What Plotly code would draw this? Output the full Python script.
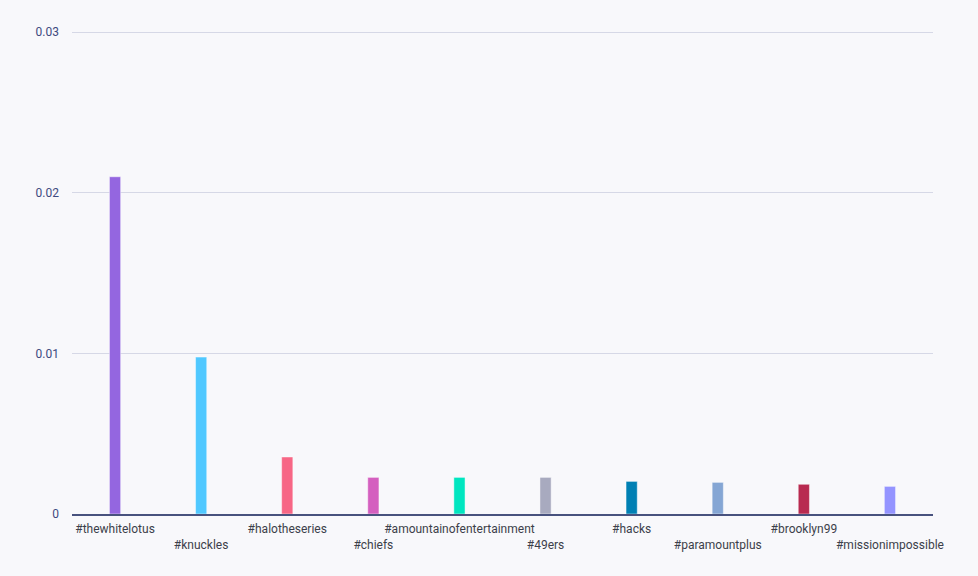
import plotly.graph_objects as go

# hashtag share values
hashtags = [
    "#thewhitelotus", "#knuckles", "#halotheseries", "#chiefs",
    "#amountainofentertainment", "#49ers", "#hacks", "#paramountplus",
    "#brooklyn99", "#missionimpossible",
]
shares = [0.0210, 0.00977, 0.00355, 0.00228, 0.00228,
          0.00228, 0.00203, 0.00197, 0.00185, 0.00172]
bar_colors = [
    "#9466e0", "#50c8ff", "#f76685", "#d45fbf", "#00e6c0",
    "#a8aabf", "#0080b4", "#85a6d4", "#b82a50", "#9494ff",
]
y_ticks = [0, 0.01, 0.02, 0.03]
y_tick_labels = ["0", "0.01", "0.02", "0.03"]

# stagger the category labels on two rows
tick_text = [h if i % 2 == 0 else "<br>" + h for i, h in enumerate(hashtags)]

fig = go.Figure()
fig.add_bar(
    x=hashtags,
    y=shares,
    width=0.13,
    marker=dict(
        color=bar_colors,
        line=dict(color="rgba(255,255,255,0.45)", width=1),
    ),
    hoverinfo="x+y",
)

fig.update_layout(
    width=978,
    height=576,
    paper_bgcolor="#f8f8fb",
    plot_bgcolor="#f8f8fb",
    # a little headroom above 0.03 so its gridline isn't clipped
    margin=dict(l=72, r=45, t=29, b=62),
    font=dict(family="Roboto, Arial, sans-serif", size=12, color="#3c3f4a"),
    showlegend=False,
)
fig.update_xaxes(
    tickmode="array",
    tickvals=hashtags,
    ticktext=tick_text,
    tickangle=0,
    showline=True,
    linecolor="#48527e",
    linewidth=1.5,
    showgrid=False,
    ticks="",
    ticklabelstandoff=3,
    tickfont=dict(size=12, color="#3c3f4a"),
)
fig.update_yaxes(
    range=[0, 0.0302],
    tickmode="array",
    tickvals=y_ticks,
    ticktext=y_tick_labels,
    showgrid=True,
    gridcolor="#d6d8e6",
    gridwidth=1,
    zeroline=False,
    showline=False,
    ticks="",
    ticklabelstandoff=12,
    tickfont=dict(size=12, color="#3e4a80"),
)

# drop the default page margin so the chart fills the window
fig.write_html(
    "out.html",
    config={"displayModeBar": False},
    post_script="document.body.style.margin='0';document.body.style.background='#f8f8fb';",
)
